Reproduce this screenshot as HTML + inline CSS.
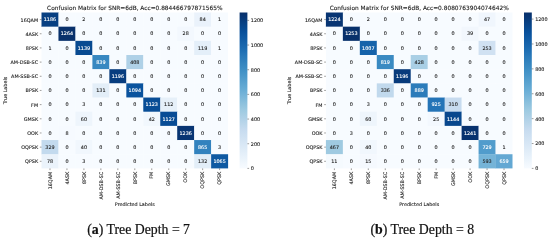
<!DOCTYPE html>
<html><head><meta charset="utf-8"><style>
html,body{margin:0;padding:0;background:#fff;}
body{width:550px;height:241px;overflow:hidden;position:relative;}
svg{position:absolute;left:0;top:0;}
.s{font-family:"DejaVu Sans","Liberation Sans",sans-serif;font-size:4.875px;fill:#262626;stroke:#262626;stroke-width:0.12px;}
.t{font-family:"DejaVu Sans","Liberation Sans",sans-serif;font-size:5.85px;fill:#1a1a1a;stroke:#1a1a1a;stroke-width:0.1px;}
.w{fill:#fff;stroke:#fff;}
.tk{stroke:#262626;stroke-width:0.45;}
.c{font-family:"Liberation Serif","DejaVu Serif",serif;font-size:13.8px;fill:#111;stroke:#111;stroke-width:0.2px;}
.cap{position:absolute;top:0;font-family:"Liberation Serif","DejaVu Serif",serif;font-size:13.8px;color:#222;white-space:nowrap;line-height:1;}
</style></head><body>
<svg width="550" height="241" viewBox="0 0 550 241">
<rect x="41.5" y="12.5" width="17.26" height="14.47" fill="#084082"/>
<rect x="58.46" y="12.5" width="17.26" height="14.47" fill="#f7fbff"/>
<rect x="75.43" y="12.5" width="17.26" height="14.47" fill="#f7fbff"/>
<rect x="92.39" y="12.5" width="17.26" height="14.47" fill="#f7fbff"/>
<rect x="109.35" y="12.5" width="17.26" height="14.47" fill="#f7fbff"/>
<rect x="126.32" y="12.5" width="17.26" height="14.47" fill="#f7fbff"/>
<rect x="143.28" y="12.5" width="17.26" height="14.47" fill="#f7fbff"/>
<rect x="160.25" y="12.5" width="17.26" height="14.47" fill="#f7fbff"/>
<rect x="177.21" y="12.5" width="17.26" height="14.47" fill="#f7fbff"/>
<rect x="194.17" y="12.5" width="17.26" height="14.47" fill="#eaf2fb"/>
<rect x="211.14" y="12.5" width="16.96" height="14.47" fill="#f7fbff"/>
<rect x="41.5" y="26.67" width="17.26" height="14.47" fill="#f7fbff"/>
<rect x="58.46" y="26.67" width="17.26" height="14.47" fill="#08306b"/>
<rect x="75.43" y="26.67" width="17.26" height="14.47" fill="#f7fbff"/>
<rect x="92.39" y="26.67" width="17.26" height="14.47" fill="#f7fbff"/>
<rect x="109.35" y="26.67" width="17.26" height="14.47" fill="#f7fbff"/>
<rect x="126.32" y="26.67" width="17.26" height="14.47" fill="#f7fbff"/>
<rect x="143.28" y="26.67" width="17.26" height="14.47" fill="#f7fbff"/>
<rect x="160.25" y="26.67" width="17.26" height="14.47" fill="#f7fbff"/>
<rect x="177.21" y="26.67" width="17.26" height="14.47" fill="#f3f8fe"/>
<rect x="194.17" y="26.67" width="17.26" height="14.47" fill="#f7fbff"/>
<rect x="211.14" y="26.67" width="16.96" height="14.47" fill="#f7fbff"/>
<rect x="41.5" y="40.85" width="17.26" height="14.47" fill="#f7fbff"/>
<rect x="58.46" y="40.85" width="17.26" height="14.47" fill="#f7fbff"/>
<rect x="75.43" y="40.85" width="17.26" height="14.47" fill="#084a91"/>
<rect x="92.39" y="40.85" width="17.26" height="14.47" fill="#f7fbff"/>
<rect x="109.35" y="40.85" width="17.26" height="14.47" fill="#f7fbff"/>
<rect x="126.32" y="40.85" width="17.26" height="14.47" fill="#f7fbff"/>
<rect x="143.28" y="40.85" width="17.26" height="14.47" fill="#f7fbff"/>
<rect x="160.25" y="40.85" width="17.26" height="14.47" fill="#f7fbff"/>
<rect x="177.21" y="40.85" width="17.26" height="14.47" fill="#f7fbff"/>
<rect x="194.17" y="40.85" width="17.26" height="14.47" fill="#e4eff9"/>
<rect x="211.14" y="40.85" width="16.96" height="14.47" fill="#f7fbff"/>
<rect x="41.5" y="55.02" width="17.26" height="14.47" fill="#f7fbff"/>
<rect x="58.46" y="55.02" width="17.26" height="14.47" fill="#f7fbff"/>
<rect x="75.43" y="55.02" width="17.26" height="14.47" fill="#f7fbff"/>
<rect x="92.39" y="55.02" width="17.26" height="14.47" fill="#3888c1"/>
<rect x="109.35" y="55.02" width="17.26" height="14.47" fill="#f7fbff"/>
<rect x="126.32" y="55.02" width="17.26" height="14.47" fill="#afd1e7"/>
<rect x="143.28" y="55.02" width="17.26" height="14.47" fill="#f7fbff"/>
<rect x="160.25" y="55.02" width="17.26" height="14.47" fill="#f7fbff"/>
<rect x="177.21" y="55.02" width="17.26" height="14.47" fill="#f7fbff"/>
<rect x="194.17" y="55.02" width="17.26" height="14.47" fill="#f7fbff"/>
<rect x="211.14" y="55.02" width="16.96" height="14.47" fill="#f7fbff"/>
<rect x="41.5" y="69.19" width="17.26" height="14.47" fill="#f7fbff"/>
<rect x="58.46" y="69.19" width="17.26" height="14.47" fill="#f7fbff"/>
<rect x="75.43" y="69.19" width="17.26" height="14.47" fill="#f7fbff"/>
<rect x="92.39" y="69.19" width="17.26" height="14.47" fill="#f7fbff"/>
<rect x="109.35" y="69.19" width="17.26" height="14.47" fill="#083d7f"/>
<rect x="126.32" y="69.19" width="17.26" height="14.47" fill="#f7fbff"/>
<rect x="143.28" y="69.19" width="17.26" height="14.47" fill="#f7fbff"/>
<rect x="160.25" y="69.19" width="17.26" height="14.47" fill="#f7fbff"/>
<rect x="177.21" y="69.19" width="17.26" height="14.47" fill="#f7fbff"/>
<rect x="194.17" y="69.19" width="17.26" height="14.47" fill="#f7fbff"/>
<rect x="211.14" y="69.19" width="16.96" height="14.47" fill="#f7fbff"/>
<rect x="41.5" y="83.36" width="17.26" height="14.47" fill="#f7fbff"/>
<rect x="58.46" y="83.36" width="17.26" height="14.47" fill="#f7fbff"/>
<rect x="75.43" y="83.36" width="17.26" height="14.47" fill="#f7fbff"/>
<rect x="92.39" y="83.36" width="17.26" height="14.47" fill="#e3eef8"/>
<rect x="109.35" y="83.36" width="17.26" height="14.47" fill="#f7fbff"/>
<rect x="126.32" y="83.36" width="17.26" height="14.47" fill="#0a539e"/>
<rect x="143.28" y="83.36" width="17.26" height="14.47" fill="#f7fbff"/>
<rect x="160.25" y="83.36" width="17.26" height="14.47" fill="#f7fbff"/>
<rect x="177.21" y="83.36" width="17.26" height="14.47" fill="#f7fbff"/>
<rect x="194.17" y="83.36" width="17.26" height="14.47" fill="#f7fbff"/>
<rect x="211.14" y="83.36" width="16.96" height="14.47" fill="#f7fbff"/>
<rect x="41.5" y="97.54" width="17.26" height="14.47" fill="#f7fbff"/>
<rect x="58.46" y="97.54" width="17.26" height="14.47" fill="#f7fbff"/>
<rect x="75.43" y="97.54" width="17.26" height="14.47" fill="#f7fbff"/>
<rect x="92.39" y="97.54" width="17.26" height="14.47" fill="#f7fbff"/>
<rect x="109.35" y="97.54" width="17.26" height="14.47" fill="#f7fbff"/>
<rect x="126.32" y="97.54" width="17.26" height="14.47" fill="#f7fbff"/>
<rect x="143.28" y="97.54" width="17.26" height="14.47" fill="#084d96"/>
<rect x="160.25" y="97.54" width="17.26" height="14.47" fill="#e6f0f9"/>
<rect x="177.21" y="97.54" width="17.26" height="14.47" fill="#f7fbff"/>
<rect x="194.17" y="97.54" width="17.26" height="14.47" fill="#f7fbff"/>
<rect x="211.14" y="97.54" width="16.96" height="14.47" fill="#f7fbff"/>
<rect x="41.5" y="111.71" width="17.26" height="14.47" fill="#f7fbff"/>
<rect x="58.46" y="111.71" width="17.26" height="14.47" fill="#f7fbff"/>
<rect x="75.43" y="111.71" width="17.26" height="14.47" fill="#eef5fc"/>
<rect x="92.39" y="111.71" width="17.26" height="14.47" fill="#f7fbff"/>
<rect x="109.35" y="111.71" width="17.26" height="14.47" fill="#f7fbff"/>
<rect x="126.32" y="111.71" width="17.26" height="14.47" fill="#f7fbff"/>
<rect x="143.28" y="111.71" width="17.26" height="14.47" fill="#f1f7fd"/>
<rect x="160.25" y="111.71" width="17.26" height="14.47" fill="#084c95"/>
<rect x="177.21" y="111.71" width="17.26" height="14.47" fill="#f7fbff"/>
<rect x="194.17" y="111.71" width="17.26" height="14.47" fill="#f7fbff"/>
<rect x="211.14" y="111.71" width="16.96" height="14.47" fill="#f7fbff"/>
<rect x="41.5" y="125.88" width="17.26" height="14.47" fill="#f7fbff"/>
<rect x="58.46" y="125.88" width="17.26" height="14.47" fill="#f6faff"/>
<rect x="75.43" y="125.88" width="17.26" height="14.47" fill="#f7fbff"/>
<rect x="92.39" y="125.88" width="17.26" height="14.47" fill="#f7fbff"/>
<rect x="109.35" y="125.88" width="17.26" height="14.47" fill="#f7fbff"/>
<rect x="126.32" y="125.88" width="17.26" height="14.47" fill="#f7fbff"/>
<rect x="143.28" y="125.88" width="17.26" height="14.47" fill="#f7fbff"/>
<rect x="160.25" y="125.88" width="17.26" height="14.47" fill="#f7fbff"/>
<rect x="177.21" y="125.88" width="17.26" height="14.47" fill="#083573"/>
<rect x="194.17" y="125.88" width="17.26" height="14.47" fill="#f7fbff"/>
<rect x="211.14" y="125.88" width="16.96" height="14.47" fill="#f7fbff"/>
<rect x="41.5" y="140.05" width="17.26" height="14.47" fill="#c3daee"/>
<rect x="58.46" y="140.05" width="17.26" height="14.47" fill="#f7fbff"/>
<rect x="75.43" y="140.05" width="17.26" height="14.47" fill="#f1f7fd"/>
<rect x="92.39" y="140.05" width="17.26" height="14.47" fill="#f7fbff"/>
<rect x="109.35" y="140.05" width="17.26" height="14.47" fill="#f7fbff"/>
<rect x="126.32" y="140.05" width="17.26" height="14.47" fill="#f7fbff"/>
<rect x="143.28" y="140.05" width="17.26" height="14.47" fill="#f7fbff"/>
<rect x="160.25" y="140.05" width="17.26" height="14.47" fill="#f7fbff"/>
<rect x="177.21" y="140.05" width="17.26" height="14.47" fill="#f7fbff"/>
<rect x="194.17" y="140.05" width="17.26" height="14.47" fill="#3282be"/>
<rect x="211.14" y="140.05" width="16.96" height="14.47" fill="#f7fbff"/>
<rect x="41.5" y="154.23" width="17.26" height="14.17" fill="#ebf3fb"/>
<rect x="58.46" y="154.23" width="17.26" height="14.17" fill="#f7fbff"/>
<rect x="75.43" y="154.23" width="17.26" height="14.17" fill="#f7fbff"/>
<rect x="92.39" y="154.23" width="17.26" height="14.17" fill="#f7fbff"/>
<rect x="109.35" y="154.23" width="17.26" height="14.17" fill="#f7fbff"/>
<rect x="126.32" y="154.23" width="17.26" height="14.17" fill="#f7fbff"/>
<rect x="143.28" y="154.23" width="17.26" height="14.17" fill="#f7fbff"/>
<rect x="160.25" y="154.23" width="17.26" height="14.17" fill="#f7fbff"/>
<rect x="177.21" y="154.23" width="17.26" height="14.17" fill="#f7fbff"/>
<rect x="194.17" y="154.23" width="17.26" height="14.17" fill="#e3eef8"/>
<rect x="211.14" y="154.23" width="16.96" height="14.17" fill="#0e59a2"/>
<text x="49.98" y="21.29" text-anchor="middle" class="s w">1186</text>
<text x="66.95" y="21.29" text-anchor="middle" class="s">0</text>
<text x="83.91" y="21.29" text-anchor="middle" class="s">2</text>
<text x="100.87" y="21.29" text-anchor="middle" class="s">0</text>
<text x="117.84" y="21.29" text-anchor="middle" class="s">0</text>
<text x="134.8" y="21.29" text-anchor="middle" class="s">0</text>
<text x="151.76" y="21.29" text-anchor="middle" class="s">0</text>
<text x="168.73" y="21.29" text-anchor="middle" class="s">0</text>
<text x="185.69" y="21.29" text-anchor="middle" class="s">0</text>
<text x="202.65" y="21.29" text-anchor="middle" class="s">84</text>
<text x="219.62" y="21.29" text-anchor="middle" class="s">1</text>
<text x="49.98" y="35.47" text-anchor="middle" class="s">0</text>
<text x="66.95" y="35.47" text-anchor="middle" class="s w">1264</text>
<text x="83.91" y="35.47" text-anchor="middle" class="s">0</text>
<text x="100.87" y="35.47" text-anchor="middle" class="s">0</text>
<text x="117.84" y="35.47" text-anchor="middle" class="s">0</text>
<text x="134.8" y="35.47" text-anchor="middle" class="s">0</text>
<text x="151.76" y="35.47" text-anchor="middle" class="s">0</text>
<text x="168.73" y="35.47" text-anchor="middle" class="s">0</text>
<text x="185.69" y="35.47" text-anchor="middle" class="s">28</text>
<text x="202.65" y="35.47" text-anchor="middle" class="s">0</text>
<text x="219.62" y="35.47" text-anchor="middle" class="s">0</text>
<text x="49.98" y="49.64" text-anchor="middle" class="s">1</text>
<text x="66.95" y="49.64" text-anchor="middle" class="s">0</text>
<text x="83.91" y="49.64" text-anchor="middle" class="s w">1139</text>
<text x="100.87" y="49.64" text-anchor="middle" class="s">0</text>
<text x="117.84" y="49.64" text-anchor="middle" class="s">0</text>
<text x="134.8" y="49.64" text-anchor="middle" class="s">0</text>
<text x="151.76" y="49.64" text-anchor="middle" class="s">0</text>
<text x="168.73" y="49.64" text-anchor="middle" class="s">0</text>
<text x="185.69" y="49.64" text-anchor="middle" class="s">0</text>
<text x="202.65" y="49.64" text-anchor="middle" class="s">119</text>
<text x="219.62" y="49.64" text-anchor="middle" class="s">1</text>
<text x="49.98" y="63.81" text-anchor="middle" class="s">0</text>
<text x="66.95" y="63.81" text-anchor="middle" class="s">0</text>
<text x="83.91" y="63.81" text-anchor="middle" class="s">0</text>
<text x="100.87" y="63.81" text-anchor="middle" class="s w">839</text>
<text x="117.84" y="63.81" text-anchor="middle" class="s">0</text>
<text x="134.8" y="63.81" text-anchor="middle" class="s">408</text>
<text x="151.76" y="63.81" text-anchor="middle" class="s">0</text>
<text x="168.73" y="63.81" text-anchor="middle" class="s">0</text>
<text x="185.69" y="63.81" text-anchor="middle" class="s">0</text>
<text x="202.65" y="63.81" text-anchor="middle" class="s">0</text>
<text x="219.62" y="63.81" text-anchor="middle" class="s">0</text>
<text x="49.98" y="77.98" text-anchor="middle" class="s">0</text>
<text x="66.95" y="77.98" text-anchor="middle" class="s">0</text>
<text x="83.91" y="77.98" text-anchor="middle" class="s">0</text>
<text x="100.87" y="77.98" text-anchor="middle" class="s">0</text>
<text x="117.84" y="77.98" text-anchor="middle" class="s w">1196</text>
<text x="134.8" y="77.98" text-anchor="middle" class="s">0</text>
<text x="151.76" y="77.98" text-anchor="middle" class="s">0</text>
<text x="168.73" y="77.98" text-anchor="middle" class="s">0</text>
<text x="185.69" y="77.98" text-anchor="middle" class="s">0</text>
<text x="202.65" y="77.98" text-anchor="middle" class="s">0</text>
<text x="219.62" y="77.98" text-anchor="middle" class="s">0</text>
<text x="49.98" y="92.16" text-anchor="middle" class="s">0</text>
<text x="66.95" y="92.16" text-anchor="middle" class="s">0</text>
<text x="83.91" y="92.16" text-anchor="middle" class="s">0</text>
<text x="100.87" y="92.16" text-anchor="middle" class="s">131</text>
<text x="117.84" y="92.16" text-anchor="middle" class="s">0</text>
<text x="134.8" y="92.16" text-anchor="middle" class="s w">1094</text>
<text x="151.76" y="92.16" text-anchor="middle" class="s">0</text>
<text x="168.73" y="92.16" text-anchor="middle" class="s">0</text>
<text x="185.69" y="92.16" text-anchor="middle" class="s">0</text>
<text x="202.65" y="92.16" text-anchor="middle" class="s">0</text>
<text x="219.62" y="92.16" text-anchor="middle" class="s">0</text>
<text x="49.98" y="106.33" text-anchor="middle" class="s">0</text>
<text x="66.95" y="106.33" text-anchor="middle" class="s">0</text>
<text x="83.91" y="106.33" text-anchor="middle" class="s">3</text>
<text x="100.87" y="106.33" text-anchor="middle" class="s">0</text>
<text x="117.84" y="106.33" text-anchor="middle" class="s">0</text>
<text x="134.8" y="106.33" text-anchor="middle" class="s">0</text>
<text x="151.76" y="106.33" text-anchor="middle" class="s w">1123</text>
<text x="168.73" y="106.33" text-anchor="middle" class="s">112</text>
<text x="185.69" y="106.33" text-anchor="middle" class="s">0</text>
<text x="202.65" y="106.33" text-anchor="middle" class="s">0</text>
<text x="219.62" y="106.33" text-anchor="middle" class="s">0</text>
<text x="49.98" y="120.5" text-anchor="middle" class="s">0</text>
<text x="66.95" y="120.5" text-anchor="middle" class="s">0</text>
<text x="83.91" y="120.5" text-anchor="middle" class="s">60</text>
<text x="100.87" y="120.5" text-anchor="middle" class="s">0</text>
<text x="117.84" y="120.5" text-anchor="middle" class="s">0</text>
<text x="134.8" y="120.5" text-anchor="middle" class="s">0</text>
<text x="151.76" y="120.5" text-anchor="middle" class="s">42</text>
<text x="168.73" y="120.5" text-anchor="middle" class="s w">1127</text>
<text x="185.69" y="120.5" text-anchor="middle" class="s">0</text>
<text x="202.65" y="120.5" text-anchor="middle" class="s">0</text>
<text x="219.62" y="120.5" text-anchor="middle" class="s">0</text>
<text x="49.98" y="134.67" text-anchor="middle" class="s">0</text>
<text x="66.95" y="134.67" text-anchor="middle" class="s">8</text>
<text x="83.91" y="134.67" text-anchor="middle" class="s">0</text>
<text x="100.87" y="134.67" text-anchor="middle" class="s">0</text>
<text x="117.84" y="134.67" text-anchor="middle" class="s">0</text>
<text x="134.8" y="134.67" text-anchor="middle" class="s">0</text>
<text x="151.76" y="134.67" text-anchor="middle" class="s">0</text>
<text x="168.73" y="134.67" text-anchor="middle" class="s">0</text>
<text x="185.69" y="134.67" text-anchor="middle" class="s w">1236</text>
<text x="202.65" y="134.67" text-anchor="middle" class="s">0</text>
<text x="219.62" y="134.67" text-anchor="middle" class="s">0</text>
<text x="49.98" y="148.85" text-anchor="middle" class="s">329</text>
<text x="66.95" y="148.85" text-anchor="middle" class="s">0</text>
<text x="83.91" y="148.85" text-anchor="middle" class="s">40</text>
<text x="100.87" y="148.85" text-anchor="middle" class="s">0</text>
<text x="117.84" y="148.85" text-anchor="middle" class="s">0</text>
<text x="134.8" y="148.85" text-anchor="middle" class="s">0</text>
<text x="151.76" y="148.85" text-anchor="middle" class="s">0</text>
<text x="168.73" y="148.85" text-anchor="middle" class="s">0</text>
<text x="185.69" y="148.85" text-anchor="middle" class="s">0</text>
<text x="202.65" y="148.85" text-anchor="middle" class="s w">865</text>
<text x="219.62" y="148.85" text-anchor="middle" class="s">3</text>
<text x="49.98" y="163.02" text-anchor="middle" class="s">78</text>
<text x="66.95" y="163.02" text-anchor="middle" class="s">0</text>
<text x="83.91" y="163.02" text-anchor="middle" class="s">3</text>
<text x="100.87" y="163.02" text-anchor="middle" class="s">0</text>
<text x="117.84" y="163.02" text-anchor="middle" class="s">0</text>
<text x="134.8" y="163.02" text-anchor="middle" class="s">0</text>
<text x="151.76" y="163.02" text-anchor="middle" class="s">0</text>
<text x="168.73" y="163.02" text-anchor="middle" class="s">0</text>
<text x="185.69" y="163.02" text-anchor="middle" class="s">0</text>
<text x="202.65" y="163.02" text-anchor="middle" class="s">132</text>
<text x="219.62" y="163.02" text-anchor="middle" class="s w">1065</text>
<line x1="39.8" y1="19.59" x2="41.5" y2="19.59" class="tk"/>
<text x="38.1" y="21.54" text-anchor="end" class="s">16QAM</text>
<line x1="39.8" y1="33.76" x2="41.5" y2="33.76" class="tk"/>
<text x="38.1" y="35.71" text-anchor="end" class="s">4ASK</text>
<line x1="39.8" y1="47.93" x2="41.5" y2="47.93" class="tk"/>
<text x="38.1" y="49.88" text-anchor="end" class="s">8PSK</text>
<line x1="39.8" y1="62.1" x2="41.5" y2="62.1" class="tk"/>
<text x="38.1" y="64.05" text-anchor="end" class="s">AM-DSB-SC</text>
<line x1="39.8" y1="76.28" x2="41.5" y2="76.28" class="tk"/>
<text x="38.1" y="78.23" text-anchor="end" class="s">AM-SSB-SC</text>
<line x1="39.8" y1="90.45" x2="41.5" y2="90.45" class="tk"/>
<text x="38.1" y="92.4" text-anchor="end" class="s">BPSK</text>
<line x1="39.8" y1="104.62" x2="41.5" y2="104.62" class="tk"/>
<text x="38.1" y="106.57" text-anchor="end" class="s">FM</text>
<line x1="39.8" y1="118.8" x2="41.5" y2="118.8" class="tk"/>
<text x="38.1" y="120.75" text-anchor="end" class="s">GMSK</text>
<line x1="39.8" y1="132.97" x2="41.5" y2="132.97" class="tk"/>
<text x="38.1" y="134.92" text-anchor="end" class="s">OOK</text>
<line x1="39.8" y1="147.14" x2="41.5" y2="147.14" class="tk"/>
<text x="38.1" y="149.09" text-anchor="end" class="s">OQPSK</text>
<line x1="39.8" y1="161.31" x2="41.5" y2="161.31" class="tk"/>
<text x="38.1" y="163.26" text-anchor="end" class="s">QPSK</text>
<line x1="49.98" y1="168.4" x2="49.98" y2="170.1" class="tk"/>
<text transform="translate(51.69,171.8) rotate(-90)" text-anchor="end" class="s">16QAM</text>
<line x1="66.95" y1="168.4" x2="66.95" y2="170.1" class="tk"/>
<text transform="translate(68.65,171.8) rotate(-90)" text-anchor="end" class="s">4ASK</text>
<line x1="83.91" y1="168.4" x2="83.91" y2="170.1" class="tk"/>
<text transform="translate(85.62,171.8) rotate(-90)" text-anchor="end" class="s">8PSK</text>
<line x1="100.87" y1="168.4" x2="100.87" y2="170.1" class="tk"/>
<text transform="translate(102.58,171.8) rotate(-90)" text-anchor="end" class="s">AM-DSB-SC</text>
<line x1="117.84" y1="168.4" x2="117.84" y2="170.1" class="tk"/>
<text transform="translate(119.54,171.8) rotate(-90)" text-anchor="end" class="s">AM-SSB-SC</text>
<line x1="134.8" y1="168.4" x2="134.8" y2="170.1" class="tk"/>
<text transform="translate(136.51,171.8) rotate(-90)" text-anchor="end" class="s">BPSK</text>
<line x1="151.76" y1="168.4" x2="151.76" y2="170.1" class="tk"/>
<text transform="translate(153.47,171.8) rotate(-90)" text-anchor="end" class="s">FM</text>
<line x1="168.73" y1="168.4" x2="168.73" y2="170.1" class="tk"/>
<text transform="translate(170.43,171.8) rotate(-90)" text-anchor="end" class="s">GMSK</text>
<line x1="185.69" y1="168.4" x2="185.69" y2="170.1" class="tk"/>
<text transform="translate(187.4,171.8) rotate(-90)" text-anchor="end" class="s">OOK</text>
<line x1="202.65" y1="168.4" x2="202.65" y2="170.1" class="tk"/>
<text transform="translate(204.36,171.8) rotate(-90)" text-anchor="end" class="s">OQPSK</text>
<line x1="219.62" y1="168.4" x2="219.62" y2="170.1" class="tk"/>
<text transform="translate(221.32,171.8) rotate(-90)" text-anchor="end" class="s">QPSK</text>
<text x="134.8" y="9.5" text-anchor="middle" class="t">Confusion Matrix for SNR=6dB, Acc=0.884466797871565%</text>
<text x="134.8" y="205.5" text-anchor="middle" class="s">Predicted Labels</text>
<text transform="translate(6.7,90.45) rotate(-90)" text-anchor="middle" class="s">True Labels</text>
<defs><linearGradient id="g0" x1="0" y1="0" x2="0" y2="1"><stop offset="0.0000" stop-color="#08306b"/><stop offset="0.0312" stop-color="#083776"/><stop offset="0.0625" stop-color="#084082"/><stop offset="0.0938" stop-color="#08488e"/><stop offset="0.1250" stop-color="#08509b"/><stop offset="0.1562" stop-color="#0e58a2"/><stop offset="0.1875" stop-color="#1460a8"/><stop offset="0.2188" stop-color="#1a68ae"/><stop offset="0.2500" stop-color="#2070b4"/><stop offset="0.2812" stop-color="#2979b9"/><stop offset="0.3125" stop-color="#3181bd"/><stop offset="0.3438" stop-color="#3989c1"/><stop offset="0.3750" stop-color="#4191c6"/><stop offset="0.4062" stop-color="#4b98ca"/><stop offset="0.4375" stop-color="#56a0ce"/><stop offset="0.4688" stop-color="#60a7d2"/><stop offset="0.5000" stop-color="#6aaed6"/><stop offset="0.5312" stop-color="#77b5d9"/><stop offset="0.5625" stop-color="#84bcdb"/><stop offset="0.5938" stop-color="#91c3de"/><stop offset="0.6250" stop-color="#9dcae1"/><stop offset="0.6562" stop-color="#a8cee4"/><stop offset="0.6875" stop-color="#b2d2e8"/><stop offset="0.7188" stop-color="#bcd7eb"/><stop offset="0.7500" stop-color="#c6dbef"/><stop offset="0.7812" stop-color="#ccdff1"/><stop offset="0.8125" stop-color="#d2e3f3"/><stop offset="0.8438" stop-color="#d8e7f5"/><stop offset="0.8750" stop-color="#deebf7"/><stop offset="0.9062" stop-color="#e4eff9"/><stop offset="0.9375" stop-color="#eaf3fb"/><stop offset="0.9688" stop-color="#f1f7fd"/><stop offset="1.0000" stop-color="#f7fbff"/></linearGradient></defs>
<rect x="239.6" y="12.5" width="7.8" height="155.9" fill="url(#g0)"/>
<line x1="247.4" y1="168.4" x2="249.1" y2="168.4" class="tk"/>
<text x="250.8" y="170.35" class="s">0</text>
<line x1="247.4" y1="143.73" x2="249.1" y2="143.73" class="tk"/>
<text x="250.8" y="145.68" class="s">200</text>
<line x1="247.4" y1="119.06" x2="249.1" y2="119.06" class="tk"/>
<text x="250.8" y="121.01" class="s">400</text>
<line x1="247.4" y1="94.4" x2="249.1" y2="94.4" class="tk"/>
<text x="250.8" y="96.35" class="s">600</text>
<line x1="247.4" y1="69.73" x2="249.1" y2="69.73" class="tk"/>
<text x="250.8" y="71.68" class="s">800</text>
<line x1="247.4" y1="45.06" x2="249.1" y2="45.06" class="tk"/>
<text x="250.8" y="47.01" class="s">1000</text>
<line x1="247.4" y1="20.39" x2="249.1" y2="20.39" class="tk"/>
<text x="250.8" y="22.34" class="s">1200</text>
<rect x="325.9" y="12.5" width="17.26" height="14.47" fill="#083573"/>
<rect x="342.86" y="12.5" width="17.26" height="14.47" fill="#f7fbff"/>
<rect x="359.83" y="12.5" width="17.26" height="14.47" fill="#f7fbff"/>
<rect x="376.79" y="12.5" width="17.26" height="14.47" fill="#f7fbff"/>
<rect x="393.75" y="12.5" width="17.26" height="14.47" fill="#f7fbff"/>
<rect x="410.72" y="12.5" width="17.26" height="14.47" fill="#f7fbff"/>
<rect x="427.68" y="12.5" width="17.26" height="14.47" fill="#f7fbff"/>
<rect x="444.65" y="12.5" width="17.26" height="14.47" fill="#f7fbff"/>
<rect x="461.61" y="12.5" width="17.26" height="14.47" fill="#f7fbff"/>
<rect x="478.57" y="12.5" width="17.26" height="14.47" fill="#f0f6fd"/>
<rect x="495.54" y="12.5" width="16.96" height="14.47" fill="#f7fbff"/>
<rect x="325.9" y="26.67" width="17.26" height="14.47" fill="#f7fbff"/>
<rect x="342.86" y="26.67" width="17.26" height="14.47" fill="#08306b"/>
<rect x="359.83" y="26.67" width="17.26" height="14.47" fill="#f7fbff"/>
<rect x="376.79" y="26.67" width="17.26" height="14.47" fill="#f7fbff"/>
<rect x="393.75" y="26.67" width="17.26" height="14.47" fill="#f7fbff"/>
<rect x="410.72" y="26.67" width="17.26" height="14.47" fill="#f7fbff"/>
<rect x="427.68" y="26.67" width="17.26" height="14.47" fill="#f7fbff"/>
<rect x="444.65" y="26.67" width="17.26" height="14.47" fill="#f7fbff"/>
<rect x="461.61" y="26.67" width="17.26" height="14.47" fill="#f2f7fd"/>
<rect x="478.57" y="26.67" width="17.26" height="14.47" fill="#f7fbff"/>
<rect x="495.54" y="26.67" width="16.96" height="14.47" fill="#f7fbff"/>
<rect x="325.9" y="40.85" width="17.26" height="14.47" fill="#f7fbff"/>
<rect x="342.86" y="40.85" width="17.26" height="14.47" fill="#f7fbff"/>
<rect x="359.83" y="40.85" width="17.26" height="14.47" fill="#1663aa"/>
<rect x="376.79" y="40.85" width="17.26" height="14.47" fill="#f7fbff"/>
<rect x="393.75" y="40.85" width="17.26" height="14.47" fill="#f7fbff"/>
<rect x="410.72" y="40.85" width="17.26" height="14.47" fill="#f7fbff"/>
<rect x="427.68" y="40.85" width="17.26" height="14.47" fill="#f7fbff"/>
<rect x="444.65" y="40.85" width="17.26" height="14.47" fill="#f7fbff"/>
<rect x="461.61" y="40.85" width="17.26" height="14.47" fill="#f7fbff"/>
<rect x="478.57" y="40.85" width="17.26" height="14.47" fill="#d0e1f2"/>
<rect x="495.54" y="40.85" width="16.96" height="14.47" fill="#f7fbff"/>
<rect x="325.9" y="55.02" width="17.26" height="14.47" fill="#f7fbff"/>
<rect x="342.86" y="55.02" width="17.26" height="14.47" fill="#f7fbff"/>
<rect x="359.83" y="55.02" width="17.26" height="14.47" fill="#f7fbff"/>
<rect x="376.79" y="55.02" width="17.26" height="14.47" fill="#3a8ac2"/>
<rect x="393.75" y="55.02" width="17.26" height="14.47" fill="#f7fbff"/>
<rect x="410.72" y="55.02" width="17.26" height="14.47" fill="#a9cfe5"/>
<rect x="427.68" y="55.02" width="17.26" height="14.47" fill="#f7fbff"/>
<rect x="444.65" y="55.02" width="17.26" height="14.47" fill="#f7fbff"/>
<rect x="461.61" y="55.02" width="17.26" height="14.47" fill="#f7fbff"/>
<rect x="478.57" y="55.02" width="17.26" height="14.47" fill="#f7fbff"/>
<rect x="495.54" y="55.02" width="16.96" height="14.47" fill="#f7fbff"/>
<rect x="325.9" y="69.19" width="17.26" height="14.47" fill="#f7fbff"/>
<rect x="342.86" y="69.19" width="17.26" height="14.47" fill="#f7fbff"/>
<rect x="359.83" y="69.19" width="17.26" height="14.47" fill="#f7fbff"/>
<rect x="376.79" y="69.19" width="17.26" height="14.47" fill="#f7fbff"/>
<rect x="393.75" y="69.19" width="17.26" height="14.47" fill="#083b7c"/>
<rect x="410.72" y="69.19" width="17.26" height="14.47" fill="#f7fbff"/>
<rect x="427.68" y="69.19" width="17.26" height="14.47" fill="#f7fbff"/>
<rect x="444.65" y="69.19" width="17.26" height="14.47" fill="#f7fbff"/>
<rect x="461.61" y="69.19" width="17.26" height="14.47" fill="#f7fbff"/>
<rect x="478.57" y="69.19" width="17.26" height="14.47" fill="#f7fbff"/>
<rect x="495.54" y="69.19" width="16.96" height="14.47" fill="#f7fbff"/>
<rect x="325.9" y="83.36" width="17.26" height="14.47" fill="#f7fbff"/>
<rect x="342.86" y="83.36" width="17.26" height="14.47" fill="#f7fbff"/>
<rect x="359.83" y="83.36" width="17.26" height="14.47" fill="#f7fbff"/>
<rect x="376.79" y="83.36" width="17.26" height="14.47" fill="#c1d9ed"/>
<rect x="393.75" y="83.36" width="17.26" height="14.47" fill="#f7fbff"/>
<rect x="410.72" y="83.36" width="17.26" height="14.47" fill="#2c7cba"/>
<rect x="427.68" y="83.36" width="17.26" height="14.47" fill="#f7fbff"/>
<rect x="444.65" y="83.36" width="17.26" height="14.47" fill="#f7fbff"/>
<rect x="461.61" y="83.36" width="17.26" height="14.47" fill="#f7fbff"/>
<rect x="478.57" y="83.36" width="17.26" height="14.47" fill="#f7fbff"/>
<rect x="495.54" y="83.36" width="16.96" height="14.47" fill="#f7fbff"/>
<rect x="325.9" y="97.54" width="17.26" height="14.47" fill="#f7fbff"/>
<rect x="342.86" y="97.54" width="17.26" height="14.47" fill="#f7fbff"/>
<rect x="359.83" y="97.54" width="17.26" height="14.47" fill="#f7fbff"/>
<rect x="376.79" y="97.54" width="17.26" height="14.47" fill="#f7fbff"/>
<rect x="393.75" y="97.54" width="17.26" height="14.47" fill="#f7fbff"/>
<rect x="410.72" y="97.54" width="17.26" height="14.47" fill="#f7fbff"/>
<rect x="427.68" y="97.54" width="17.26" height="14.47" fill="#2474b7"/>
<rect x="444.65" y="97.54" width="17.26" height="14.47" fill="#c7dbef"/>
<rect x="461.61" y="97.54" width="17.26" height="14.47" fill="#f7fbff"/>
<rect x="478.57" y="97.54" width="17.26" height="14.47" fill="#f7fbff"/>
<rect x="495.54" y="97.54" width="16.96" height="14.47" fill="#f7fbff"/>
<rect x="325.9" y="111.71" width="17.26" height="14.47" fill="#f7fbff"/>
<rect x="342.86" y="111.71" width="17.26" height="14.47" fill="#f7fbff"/>
<rect x="359.83" y="111.71" width="17.26" height="14.47" fill="#eef5fc"/>
<rect x="376.79" y="111.71" width="17.26" height="14.47" fill="#f7fbff"/>
<rect x="393.75" y="111.71" width="17.26" height="14.47" fill="#f7fbff"/>
<rect x="410.72" y="111.71" width="17.26" height="14.47" fill="#f7fbff"/>
<rect x="427.68" y="111.71" width="17.26" height="14.47" fill="#f3f8fe"/>
<rect x="444.65" y="111.71" width="17.26" height="14.47" fill="#08478d"/>
<rect x="461.61" y="111.71" width="17.26" height="14.47" fill="#f7fbff"/>
<rect x="478.57" y="111.71" width="17.26" height="14.47" fill="#f7fbff"/>
<rect x="495.54" y="111.71" width="16.96" height="14.47" fill="#f7fbff"/>
<rect x="325.9" y="125.88" width="17.26" height="14.47" fill="#f7fbff"/>
<rect x="342.86" y="125.88" width="17.26" height="14.47" fill="#f7fbff"/>
<rect x="359.83" y="125.88" width="17.26" height="14.47" fill="#f7fbff"/>
<rect x="376.79" y="125.88" width="17.26" height="14.47" fill="#f7fbff"/>
<rect x="393.75" y="125.88" width="17.26" height="14.47" fill="#f7fbff"/>
<rect x="410.72" y="125.88" width="17.26" height="14.47" fill="#f7fbff"/>
<rect x="427.68" y="125.88" width="17.26" height="14.47" fill="#f7fbff"/>
<rect x="444.65" y="125.88" width="17.26" height="14.47" fill="#f7fbff"/>
<rect x="461.61" y="125.88" width="17.26" height="14.47" fill="#08326e"/>
<rect x="478.57" y="125.88" width="17.26" height="14.47" fill="#f7fbff"/>
<rect x="495.54" y="125.88" width="16.96" height="14.47" fill="#f7fbff"/>
<rect x="325.9" y="140.05" width="17.26" height="14.47" fill="#9fcae1"/>
<rect x="342.86" y="140.05" width="17.26" height="14.47" fill="#f7fbff"/>
<rect x="359.83" y="140.05" width="17.26" height="14.47" fill="#f1f7fd"/>
<rect x="376.79" y="140.05" width="17.26" height="14.47" fill="#f7fbff"/>
<rect x="393.75" y="140.05" width="17.26" height="14.47" fill="#f7fbff"/>
<rect x="410.72" y="140.05" width="17.26" height="14.47" fill="#f7fbff"/>
<rect x="427.68" y="140.05" width="17.26" height="14.47" fill="#f7fbff"/>
<rect x="444.65" y="140.05" width="17.26" height="14.47" fill="#f7fbff"/>
<rect x="461.61" y="140.05" width="17.26" height="14.47" fill="#f7fbff"/>
<rect x="478.57" y="140.05" width="17.26" height="14.47" fill="#519ccc"/>
<rect x="495.54" y="140.05" width="16.96" height="14.47" fill="#f7fbff"/>
<rect x="325.9" y="154.23" width="17.26" height="14.17" fill="#f5fafe"/>
<rect x="342.86" y="154.23" width="17.26" height="14.17" fill="#f7fbff"/>
<rect x="359.83" y="154.23" width="17.26" height="14.17" fill="#f5f9fe"/>
<rect x="376.79" y="154.23" width="17.26" height="14.17" fill="#f7fbff"/>
<rect x="393.75" y="154.23" width="17.26" height="14.17" fill="#f7fbff"/>
<rect x="410.72" y="154.23" width="17.26" height="14.17" fill="#f7fbff"/>
<rect x="427.68" y="154.23" width="17.26" height="14.17" fill="#f7fbff"/>
<rect x="444.65" y="154.23" width="17.26" height="14.17" fill="#f7fbff"/>
<rect x="461.61" y="154.23" width="17.26" height="14.17" fill="#f7fbff"/>
<rect x="478.57" y="154.23" width="17.26" height="14.17" fill="#75b4d8"/>
<rect x="495.54" y="154.23" width="16.96" height="14.17" fill="#63a8d3"/>
<text x="334.38" y="21.29" text-anchor="middle" class="s w">1224</text>
<text x="351.35" y="21.29" text-anchor="middle" class="s">0</text>
<text x="368.31" y="21.29" text-anchor="middle" class="s">2</text>
<text x="385.27" y="21.29" text-anchor="middle" class="s">0</text>
<text x="402.24" y="21.29" text-anchor="middle" class="s">0</text>
<text x="419.2" y="21.29" text-anchor="middle" class="s">0</text>
<text x="436.16" y="21.29" text-anchor="middle" class="s">0</text>
<text x="453.13" y="21.29" text-anchor="middle" class="s">0</text>
<text x="470.09" y="21.29" text-anchor="middle" class="s">0</text>
<text x="487.05" y="21.29" text-anchor="middle" class="s">47</text>
<text x="504.02" y="21.29" text-anchor="middle" class="s">0</text>
<text x="334.38" y="35.47" text-anchor="middle" class="s">0</text>
<text x="351.35" y="35.47" text-anchor="middle" class="s w">1253</text>
<text x="368.31" y="35.47" text-anchor="middle" class="s">0</text>
<text x="385.27" y="35.47" text-anchor="middle" class="s">0</text>
<text x="402.24" y="35.47" text-anchor="middle" class="s">0</text>
<text x="419.2" y="35.47" text-anchor="middle" class="s">0</text>
<text x="436.16" y="35.47" text-anchor="middle" class="s">0</text>
<text x="453.13" y="35.47" text-anchor="middle" class="s">0</text>
<text x="470.09" y="35.47" text-anchor="middle" class="s">39</text>
<text x="487.05" y="35.47" text-anchor="middle" class="s">0</text>
<text x="504.02" y="35.47" text-anchor="middle" class="s">0</text>
<text x="334.38" y="49.64" text-anchor="middle" class="s">0</text>
<text x="351.35" y="49.64" text-anchor="middle" class="s">0</text>
<text x="368.31" y="49.64" text-anchor="middle" class="s w">1007</text>
<text x="385.27" y="49.64" text-anchor="middle" class="s">0</text>
<text x="402.24" y="49.64" text-anchor="middle" class="s">0</text>
<text x="419.2" y="49.64" text-anchor="middle" class="s">0</text>
<text x="436.16" y="49.64" text-anchor="middle" class="s">0</text>
<text x="453.13" y="49.64" text-anchor="middle" class="s">0</text>
<text x="470.09" y="49.64" text-anchor="middle" class="s">0</text>
<text x="487.05" y="49.64" text-anchor="middle" class="s">253</text>
<text x="504.02" y="49.64" text-anchor="middle" class="s">0</text>
<text x="334.38" y="63.81" text-anchor="middle" class="s">0</text>
<text x="351.35" y="63.81" text-anchor="middle" class="s">0</text>
<text x="368.31" y="63.81" text-anchor="middle" class="s">0</text>
<text x="385.27" y="63.81" text-anchor="middle" class="s w">819</text>
<text x="402.24" y="63.81" text-anchor="middle" class="s">0</text>
<text x="419.2" y="63.81" text-anchor="middle" class="s">428</text>
<text x="436.16" y="63.81" text-anchor="middle" class="s">0</text>
<text x="453.13" y="63.81" text-anchor="middle" class="s">0</text>
<text x="470.09" y="63.81" text-anchor="middle" class="s">0</text>
<text x="487.05" y="63.81" text-anchor="middle" class="s">0</text>
<text x="504.02" y="63.81" text-anchor="middle" class="s">0</text>
<text x="334.38" y="77.98" text-anchor="middle" class="s">0</text>
<text x="351.35" y="77.98" text-anchor="middle" class="s">0</text>
<text x="368.31" y="77.98" text-anchor="middle" class="s">0</text>
<text x="385.27" y="77.98" text-anchor="middle" class="s">0</text>
<text x="402.24" y="77.98" text-anchor="middle" class="s w">1196</text>
<text x="419.2" y="77.98" text-anchor="middle" class="s">0</text>
<text x="436.16" y="77.98" text-anchor="middle" class="s">0</text>
<text x="453.13" y="77.98" text-anchor="middle" class="s">0</text>
<text x="470.09" y="77.98" text-anchor="middle" class="s">0</text>
<text x="487.05" y="77.98" text-anchor="middle" class="s">0</text>
<text x="504.02" y="77.98" text-anchor="middle" class="s">0</text>
<text x="334.38" y="92.16" text-anchor="middle" class="s">0</text>
<text x="351.35" y="92.16" text-anchor="middle" class="s">0</text>
<text x="368.31" y="92.16" text-anchor="middle" class="s">0</text>
<text x="385.27" y="92.16" text-anchor="middle" class="s">336</text>
<text x="402.24" y="92.16" text-anchor="middle" class="s">0</text>
<text x="419.2" y="92.16" text-anchor="middle" class="s w">889</text>
<text x="436.16" y="92.16" text-anchor="middle" class="s">0</text>
<text x="453.13" y="92.16" text-anchor="middle" class="s">0</text>
<text x="470.09" y="92.16" text-anchor="middle" class="s">0</text>
<text x="487.05" y="92.16" text-anchor="middle" class="s">0</text>
<text x="504.02" y="92.16" text-anchor="middle" class="s">0</text>
<text x="334.38" y="106.33" text-anchor="middle" class="s">0</text>
<text x="351.35" y="106.33" text-anchor="middle" class="s">0</text>
<text x="368.31" y="106.33" text-anchor="middle" class="s">3</text>
<text x="385.27" y="106.33" text-anchor="middle" class="s">0</text>
<text x="402.24" y="106.33" text-anchor="middle" class="s">0</text>
<text x="419.2" y="106.33" text-anchor="middle" class="s">0</text>
<text x="436.16" y="106.33" text-anchor="middle" class="s w">925</text>
<text x="453.13" y="106.33" text-anchor="middle" class="s">310</text>
<text x="470.09" y="106.33" text-anchor="middle" class="s">0</text>
<text x="487.05" y="106.33" text-anchor="middle" class="s">0</text>
<text x="504.02" y="106.33" text-anchor="middle" class="s">0</text>
<text x="334.38" y="120.5" text-anchor="middle" class="s">0</text>
<text x="351.35" y="120.5" text-anchor="middle" class="s">0</text>
<text x="368.31" y="120.5" text-anchor="middle" class="s">60</text>
<text x="385.27" y="120.5" text-anchor="middle" class="s">0</text>
<text x="402.24" y="120.5" text-anchor="middle" class="s">0</text>
<text x="419.2" y="120.5" text-anchor="middle" class="s">0</text>
<text x="436.16" y="120.5" text-anchor="middle" class="s">25</text>
<text x="453.13" y="120.5" text-anchor="middle" class="s w">1144</text>
<text x="470.09" y="120.5" text-anchor="middle" class="s">0</text>
<text x="487.05" y="120.5" text-anchor="middle" class="s">0</text>
<text x="504.02" y="120.5" text-anchor="middle" class="s">0</text>
<text x="334.38" y="134.67" text-anchor="middle" class="s">0</text>
<text x="351.35" y="134.67" text-anchor="middle" class="s">3</text>
<text x="368.31" y="134.67" text-anchor="middle" class="s">0</text>
<text x="385.27" y="134.67" text-anchor="middle" class="s">0</text>
<text x="402.24" y="134.67" text-anchor="middle" class="s">0</text>
<text x="419.2" y="134.67" text-anchor="middle" class="s">0</text>
<text x="436.16" y="134.67" text-anchor="middle" class="s">0</text>
<text x="453.13" y="134.67" text-anchor="middle" class="s">0</text>
<text x="470.09" y="134.67" text-anchor="middle" class="s w">1241</text>
<text x="487.05" y="134.67" text-anchor="middle" class="s">0</text>
<text x="504.02" y="134.67" text-anchor="middle" class="s">0</text>
<text x="334.38" y="148.85" text-anchor="middle" class="s">467</text>
<text x="351.35" y="148.85" text-anchor="middle" class="s">0</text>
<text x="368.31" y="148.85" text-anchor="middle" class="s">40</text>
<text x="385.27" y="148.85" text-anchor="middle" class="s">0</text>
<text x="402.24" y="148.85" text-anchor="middle" class="s">0</text>
<text x="419.2" y="148.85" text-anchor="middle" class="s">0</text>
<text x="436.16" y="148.85" text-anchor="middle" class="s">0</text>
<text x="453.13" y="148.85" text-anchor="middle" class="s">0</text>
<text x="470.09" y="148.85" text-anchor="middle" class="s">0</text>
<text x="487.05" y="148.85" text-anchor="middle" class="s w">729</text>
<text x="504.02" y="148.85" text-anchor="middle" class="s">1</text>
<text x="334.38" y="163.02" text-anchor="middle" class="s">11</text>
<text x="351.35" y="163.02" text-anchor="middle" class="s">0</text>
<text x="368.31" y="163.02" text-anchor="middle" class="s">15</text>
<text x="385.27" y="163.02" text-anchor="middle" class="s">0</text>
<text x="402.24" y="163.02" text-anchor="middle" class="s">0</text>
<text x="419.2" y="163.02" text-anchor="middle" class="s">0</text>
<text x="436.16" y="163.02" text-anchor="middle" class="s">0</text>
<text x="453.13" y="163.02" text-anchor="middle" class="s">0</text>
<text x="470.09" y="163.02" text-anchor="middle" class="s">0</text>
<text x="487.05" y="163.02" text-anchor="middle" class="s">593</text>
<text x="504.02" y="163.02" text-anchor="middle" class="s w">659</text>
<line x1="324.2" y1="19.59" x2="325.9" y2="19.59" class="tk"/>
<text x="322.5" y="21.54" text-anchor="end" class="s">16QAM</text>
<line x1="324.2" y1="33.76" x2="325.9" y2="33.76" class="tk"/>
<text x="322.5" y="35.71" text-anchor="end" class="s">4ASK</text>
<line x1="324.2" y1="47.93" x2="325.9" y2="47.93" class="tk"/>
<text x="322.5" y="49.88" text-anchor="end" class="s">8PSK</text>
<line x1="324.2" y1="62.1" x2="325.9" y2="62.1" class="tk"/>
<text x="322.5" y="64.05" text-anchor="end" class="s">AM-DSB-SC</text>
<line x1="324.2" y1="76.28" x2="325.9" y2="76.28" class="tk"/>
<text x="322.5" y="78.23" text-anchor="end" class="s">AM-SSB-SC</text>
<line x1="324.2" y1="90.45" x2="325.9" y2="90.45" class="tk"/>
<text x="322.5" y="92.4" text-anchor="end" class="s">BPSK</text>
<line x1="324.2" y1="104.62" x2="325.9" y2="104.62" class="tk"/>
<text x="322.5" y="106.57" text-anchor="end" class="s">FM</text>
<line x1="324.2" y1="118.8" x2="325.9" y2="118.8" class="tk"/>
<text x="322.5" y="120.75" text-anchor="end" class="s">GMSK</text>
<line x1="324.2" y1="132.97" x2="325.9" y2="132.97" class="tk"/>
<text x="322.5" y="134.92" text-anchor="end" class="s">OOK</text>
<line x1="324.2" y1="147.14" x2="325.9" y2="147.14" class="tk"/>
<text x="322.5" y="149.09" text-anchor="end" class="s">OQPSK</text>
<line x1="324.2" y1="161.31" x2="325.9" y2="161.31" class="tk"/>
<text x="322.5" y="163.26" text-anchor="end" class="s">QPSK</text>
<line x1="334.38" y1="168.4" x2="334.38" y2="170.1" class="tk"/>
<text transform="translate(336.09,171.8) rotate(-90)" text-anchor="end" class="s">16QAM</text>
<line x1="351.35" y1="168.4" x2="351.35" y2="170.1" class="tk"/>
<text transform="translate(353.05,171.8) rotate(-90)" text-anchor="end" class="s">4ASK</text>
<line x1="368.31" y1="168.4" x2="368.31" y2="170.1" class="tk"/>
<text transform="translate(370.02,171.8) rotate(-90)" text-anchor="end" class="s">8PSK</text>
<line x1="385.27" y1="168.4" x2="385.27" y2="170.1" class="tk"/>
<text transform="translate(386.98,171.8) rotate(-90)" text-anchor="end" class="s">AM-DSB-SC</text>
<line x1="402.24" y1="168.4" x2="402.24" y2="170.1" class="tk"/>
<text transform="translate(403.94,171.8) rotate(-90)" text-anchor="end" class="s">AM-SSB-SC</text>
<line x1="419.2" y1="168.4" x2="419.2" y2="170.1" class="tk"/>
<text transform="translate(420.91,171.8) rotate(-90)" text-anchor="end" class="s">BPSK</text>
<line x1="436.16" y1="168.4" x2="436.16" y2="170.1" class="tk"/>
<text transform="translate(437.87,171.8) rotate(-90)" text-anchor="end" class="s">FM</text>
<line x1="453.13" y1="168.4" x2="453.13" y2="170.1" class="tk"/>
<text transform="translate(454.83,171.8) rotate(-90)" text-anchor="end" class="s">GMSK</text>
<line x1="470.09" y1="168.4" x2="470.09" y2="170.1" class="tk"/>
<text transform="translate(471.8,171.8) rotate(-90)" text-anchor="end" class="s">OOK</text>
<line x1="487.05" y1="168.4" x2="487.05" y2="170.1" class="tk"/>
<text transform="translate(488.76,171.8) rotate(-90)" text-anchor="end" class="s">OQPSK</text>
<line x1="504.02" y1="168.4" x2="504.02" y2="170.1" class="tk"/>
<text transform="translate(505.72,171.8) rotate(-90)" text-anchor="end" class="s">QPSK</text>
<text x="419.2" y="9.5" text-anchor="middle" class="t">Confusion Matrix for SNR=6dB, Acc=0.8080763904074642%</text>
<text x="419.2" y="205.5" text-anchor="middle" class="s">Predicted Labels</text>
<text transform="translate(291.1,90.45) rotate(-90)" text-anchor="middle" class="s">True Labels</text>
<defs><linearGradient id="g284" x1="0" y1="0" x2="0" y2="1"><stop offset="0.0000" stop-color="#08306b"/><stop offset="0.0312" stop-color="#083776"/><stop offset="0.0625" stop-color="#084082"/><stop offset="0.0938" stop-color="#08488e"/><stop offset="0.1250" stop-color="#08509b"/><stop offset="0.1562" stop-color="#0e58a2"/><stop offset="0.1875" stop-color="#1460a8"/><stop offset="0.2188" stop-color="#1a68ae"/><stop offset="0.2500" stop-color="#2070b4"/><stop offset="0.2812" stop-color="#2979b9"/><stop offset="0.3125" stop-color="#3181bd"/><stop offset="0.3438" stop-color="#3989c1"/><stop offset="0.3750" stop-color="#4191c6"/><stop offset="0.4062" stop-color="#4b98ca"/><stop offset="0.4375" stop-color="#56a0ce"/><stop offset="0.4688" stop-color="#60a7d2"/><stop offset="0.5000" stop-color="#6aaed6"/><stop offset="0.5312" stop-color="#77b5d9"/><stop offset="0.5625" stop-color="#84bcdb"/><stop offset="0.5938" stop-color="#91c3de"/><stop offset="0.6250" stop-color="#9dcae1"/><stop offset="0.6562" stop-color="#a8cee4"/><stop offset="0.6875" stop-color="#b2d2e8"/><stop offset="0.7188" stop-color="#bcd7eb"/><stop offset="0.7500" stop-color="#c6dbef"/><stop offset="0.7812" stop-color="#ccdff1"/><stop offset="0.8125" stop-color="#d2e3f3"/><stop offset="0.8438" stop-color="#d8e7f5"/><stop offset="0.8750" stop-color="#deebf7"/><stop offset="0.9062" stop-color="#e4eff9"/><stop offset="0.9375" stop-color="#eaf3fb"/><stop offset="0.9688" stop-color="#f1f7fd"/><stop offset="1.0000" stop-color="#f7fbff"/></linearGradient></defs>
<rect x="524" y="12.5" width="7.8" height="155.9" fill="url(#g284)"/>
<line x1="531.8" y1="168.4" x2="533.5" y2="168.4" class="tk"/>
<text x="535.2" y="170.35" class="s">0</text>
<line x1="531.8" y1="143.52" x2="533.5" y2="143.52" class="tk"/>
<text x="535.2" y="145.47" class="s">200</text>
<line x1="531.8" y1="118.63" x2="533.5" y2="118.63" class="tk"/>
<text x="535.2" y="120.58" class="s">400</text>
<line x1="531.8" y1="93.75" x2="533.5" y2="93.75" class="tk"/>
<text x="535.2" y="95.7" class="s">600</text>
<line x1="531.8" y1="68.86" x2="533.5" y2="68.86" class="tk"/>
<text x="535.2" y="70.81" class="s">800</text>
<line x1="531.8" y1="43.98" x2="533.5" y2="43.98" class="tk"/>
<text x="535.2" y="45.93" class="s">1000</text>
<line x1="531.8" y1="19.09" x2="533.5" y2="19.09" class="tk"/>
<text x="535.2" y="21.04" class="s">1200</text>
<text x="138.6" y="234.0" text-anchor="middle" class="c">(<tspan font-weight="bold">a</tspan>) Tree Depth = 7</text>
<text x="422.3" y="234.0" text-anchor="middle" class="c">(<tspan font-weight="bold">b</tspan>) Tree Depth = 8</text>
</svg>
</body></html>
